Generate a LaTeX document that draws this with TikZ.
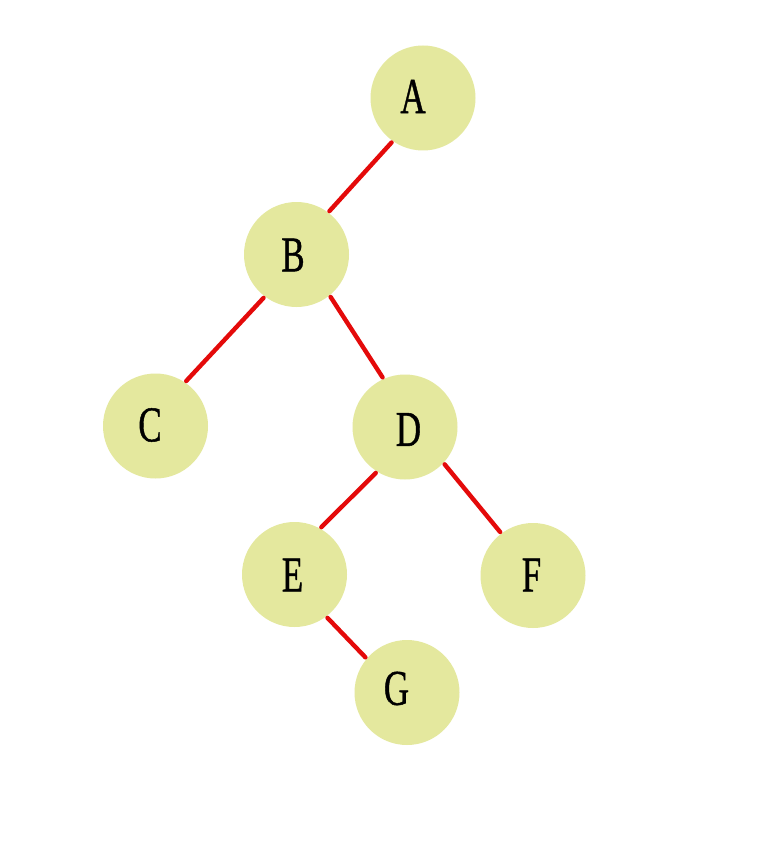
\documentclass[tikz,border=0pt]{standalone}
\usepackage{fontspec}
\setmainfont{Liberation Serif}
\newfontfamily\lblfont[FakeBold=1]{Liberation Serif}
\definecolor{nodefill}{RGB}{228,232,158}
\definecolor{edgered}{RGB}{228,10,10}
\newcommand{\narrowtxt}[1]{\scalebox{0.7}[1]{#1}}
\begin{document}
\begin{tikzpicture}[x=1pt,y=-1pt,
  treenode/.style={circle,fill=nodefill,draw=none,minimum size=105pt,inner sep=0pt,outer sep=0pt},
  lbl/.style={font=\lblfont\fontsize{50}{50}\selectfont,inner sep=0pt},
  edge/.style={draw=edgered,line width=4.4pt,line cap=round,shorten <=2pt,shorten >=2pt}]
\useasboundingbox (0,0) rectangle (773,845);
\fill[white] (0,0) rectangle (773,845);
\node[treenode] (A) at (423,98) {};
\node[treenode] (B) at (296.5,254.5) {};
\node[treenode] (C) at (155.5,426) {};
\node[treenode] (D) at (405,427) {};
\node[treenode] (E) at (294.5,574.5) {};
\node[treenode] (F) at (533,575.5) {};
\node[treenode] (G) at (407,692.5) {};
\draw[edge] (A.235.7) -- (B.53.2);
\draw[edge] (B.233.5) -- (C.56.1);
\draw[edge] (B.309.9) -- (D.114.5);
\draw[edge] (D.238.1) -- (E.61.5);
\draw[edge] (D.317.3) -- (F.127);
\draw[edge] (E.307.4) -- (G.140.5);
\node[lbl] (tA) at (413,96.5) {\narrowtxt{A}};
\node[lbl] (tB) at (293,255) {\narrowtxt{B}};
\node[lbl] (tC) at (150,425) {\narrowtxt{C}};
\node[lbl] (tD) at (408.5,429.5) {\narrowtxt{D}};
\node[lbl] (tE) at (292.5,575) {\narrowtxt{E}};
\node[lbl] (tF) at (531.5,575) {\narrowtxt{F}};
\node[lbl] (tG) at (396.5,688.5) {\narrowtxt{G}};
\end{tikzpicture}
\end{document}
